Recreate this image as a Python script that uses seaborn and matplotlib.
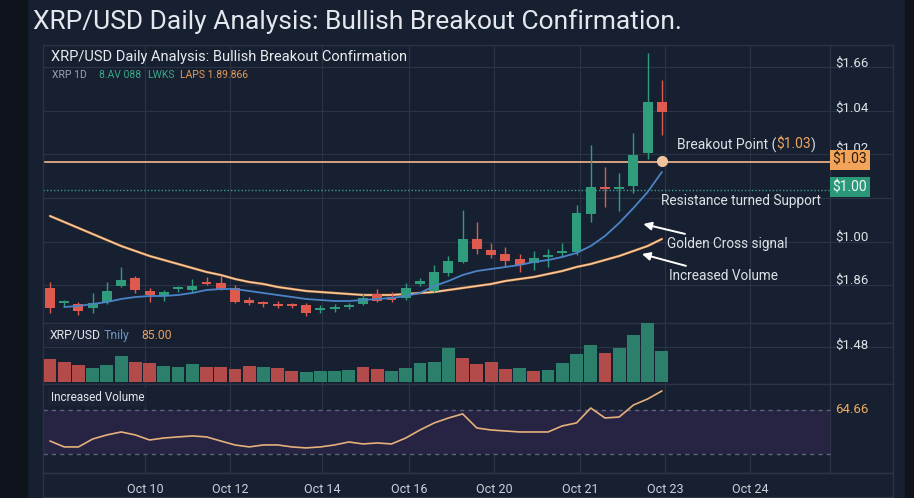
import numpy as np
import pandas as pd
import matplotlib
matplotlib.use("Agg")
import matplotlib.pyplot as plt
import seaborn as sns
from matplotlib.patches import Rectangle

# Candles (one per day)
opens = [0.904, 0.889, 0.888, 0.884, 0.890, 0.906, 0.914, 0.901, 0.896, 0.903,
         0.902, 0.910, 0.909, 0.904, 0.892, 0.890, 0.888, 0.887, 0.887, 0.882,
         0.883, 0.885, 0.888, 0.898, 0.895, 0.894, 0.908, 0.901, 0.919, 0.930,
         0.953, 0.942, 0.938, 0.933, 0.929, 0.935, 0.939, 0.940, 0.978, 1.005,
         1.003, 1.006, 1.039, 1.090]
closes = [0.884, 0.890, 0.881, 0.889, 0.901, 0.912, 0.902, 0.897, 0.900, 0.904,
          0.906, 0.908, 0.903, 0.890, 0.889, 0.888, 0.886, 0.886, 0.879, 0.884,
          0.884, 0.886, 0.894, 0.891, 0.892, 0.904, 0.911, 0.920, 0.931, 0.953,
          0.943, 0.937, 0.931, 0.927, 0.934, 0.937, 0.940, 0.979, 1.005, 1.003,
          1.005, 1.037, 1.090, 1.080]
highs = [0.910, 0.892, 0.890, 0.899, 0.910, 0.925, 0.916, 0.904, 0.902, 0.906,
         0.913, 0.915, 0.916, 0.907, 0.895, 0.891, 0.891, 0.889, 0.889, 0.887,
         0.888, 0.889, 0.899, 0.903, 0.900, 0.909, 0.914, 0.927, 0.936, 0.982,
         0.970, 0.949, 0.945, 0.938, 0.941, 0.943, 0.949, 0.987, 1.047, 1.025,
         1.019, 1.059, 1.139, 1.112]
lows = [0.879, 0.885, 0.877, 0.879, 0.888, 0.905, 0.899, 0.890, 0.891, 0.900,
        0.900, 0.907, 0.902, 0.889, 0.887, 0.885, 0.884, 0.884, 0.876, 0.879,
        0.880, 0.883, 0.887, 0.890, 0.890, 0.892, 0.906, 0.900, 0.916, 0.929,
        0.938, 0.934, 0.925, 0.920, 0.922, 0.925, 0.935, 0.937, 0.970, 0.985,
        0.981, 0.999, 1.033, 1.057]

# moving averages (fast one starts on day 1)
ma_fast = [0.885, 0.886, 0.888, 0.890, 0.893, 0.895, 0.896, 0.896, 0.897, 0.899,
           0.902, 0.903, 0.903, 0.901, 0.899, 0.897, 0.895, 0.893, 0.892, 0.891,
           0.891, 0.892, 0.893, 0.894, 0.896, 0.899, 0.906, 0.911, 0.917, 0.921,
           0.923, 0.925, 0.927, 0.930, 0.932, 0.935, 0.939, 0.946, 0.956, 0.969,
           0.984, 1.000, 1.020]
ma_slow = [0.976, 0.970, 0.964, 0.958, 0.952, 0.946, 0.941, 0.936, 0.932, 0.928,
           0.924, 0.920, 0.917, 0.913, 0.910, 0.908, 0.905, 0.903, 0.901, 0.900,
           0.899, 0.898, 0.897, 0.897, 0.897, 0.898, 0.899, 0.900, 0.902, 0.904,
           0.906, 0.908, 0.911, 0.913, 0.915, 0.918, 0.921, 0.925, 0.928, 0.932,
           0.936, 0.941, 0.946, 0.953]

volume = [23, 20, 17, 14, 17, 26, 20, 19, 16, 15, 18, 15, 15, 13, 16, 15, 14, 11,
          10, 11, 11, 12, 15, 13, 11, 14, 19, 20, 34, 24, 18, 20, 13, 14, 11, 12,
          19, 28, 37, 29, 34, 47, 59, 31]
vol_dir = ["dn", "dn", "dn", "up", "up", "up", "dn", "dn", "up", "up", "up", "dn",
           "dn", "dn", "dn", "up", "dn", "dn", "up", "up", "up", "up", "dn", "dn",
           "up", "up", "up", "up", "up", "dn", "dn", "dn", "dn", "up", "dn", "up",
           "up", "up", "up", "dn", "up", "up", "up", "up"]

rsi = [41.8, 36.4, 36.4, 43.6, 47.3, 50.0, 47.3, 42.7, 44.5, 45.5, 46.4, 45.5,
       41.8, 38.2, 36.4, 38.2, 38.2, 36.4, 35.5, 36.4, 38.2, 40.9, 39.1, 40.0,
       39.1, 44.5, 51.8, 58.2, 62.7, 66.4, 53.6, 51.8, 50.9, 50.0, 50.0, 50.0,
       55.5, 58.2, 71.8, 62.7, 63.6, 74.5, 80.0, 87.3]

date_labels = ["Oct 10", "Oct 12", "Oct 14", "Oct 16", "Oct 20", "Oct 21", "Oct 23", "Oct 24"]
date_pos = [6.68, 12.65, 19.11, 25.23, 31.2, 37.25, 43.22, 49.19]
price_labels = ["$1.66", "$1.04", "$1.02", "$1.00", "$1.86"]
price_label_pos = [1.129, 1.084, 1.044, 0.955, 0.912]
price_grid = [1.125, 1.081, 1.038, 0.994, 0.950, 0.907]
resistance = 1.03
support = 1.002

df = pd.DataFrame({"day": np.arange(len(opens)), "open": opens, "close": closes,
                   "high": highs, "low": lows, "ma_slow": ma_slow, "rsi": rsi,
                   "volume": volume, "dir": vol_dir})

BG = "#172030"
GRID = "#2a3444"
GREEN = "#2f9c7c"
RED = "#de5a4e"
TXT = "#dde2e8"

sns.set_theme(style="dark", rc={"axes.facecolor": BG, "figure.facecolor": BG,
                                "patch.edgecolor": "none"})
plt.rcParams["font.family"] = ["Roboto", "DejaVu Sans"]

fig = plt.figure(figsize=(9.14, 4.98), dpi=100)

def fx(px):
    return px / 914

def fy(py):
    return 1 - py / 498

# darker frame strips
fig.patches.append(Rectangle((0, 0), fx(27), 1, transform=fig.transFigure, color="#0f141c", zorder=0))
fig.patches.append(Rectangle((fx(905), 0), 1, 1, transform=fig.transFigure, color="#0f141c", zorder=0))

left, right = fx(43), fx(893)
ax_p = fig.add_axes([left, fy(323), right - left, fy(45) - fy(323)])
ax_v = fig.add_axes([left, fy(384), right - left, fy(323) - fy(384)])
ax_r = fig.add_axes([left, fy(473), right - left, fy(384) - fy(473)])
fig.patches.append(Rectangle((left, fy(497)), right - left, fy(473) - fy(497), transform=fig.transFigure,
                             fill=False, edgecolor=GRID, lw=1, zorder=1))

x_min, x_max, x_div = -0.49, 59.24, 54.81

for ax in (ax_p, ax_v, ax_r):
    ax.set_facecolor(BG)
    ax.set_xlim(x_min, x_max)
    for s in ax.spines.values():
        s.set_color(GRID)
        s.set_linewidth(1)
    for xp in date_pos:
        ax.axvline(xp, color=GRID, lw=0.8, zorder=0)
    ax.axvline(x_div, color=GRID, lw=1, zorder=0)
    ax.set_xticks([])
    ax.set_yticks([])

# ---- price panel
ax_p.set_ylim(0.869, 1.147)
for yp in price_grid:
    ax_p.axhline(yp, color=GRID, lw=0.8, zorder=0)

up = df["close"] >= df["open"]
cols = np.where(up, GREEN, RED)
ax_p.vlines(df["day"], df["low"], df["high"], colors=cols, lw=1.0, zorder=3)
body_low = np.minimum(df["open"], df["close"])
body_h = np.maximum(np.abs(df["close"] - df["open"]), 0.0018)
ax_p.bar(df["day"], body_h, bottom=body_low, width=0.7, color=cols, edgecolor="none", linewidth=0, zorder=4)

sns.lineplot(x=df["day"], y=df["ma_slow"], ax=ax_p, color="#e8995a", lw=1.7, zorder=2)
sns.lineplot(x=df["day"], y=df["ma_slow"], ax=ax_p, color="#f8dcb8", lw=0.6, zorder=2)
sns.lineplot(x=df["day"][1:], y=ma_fast, ax=ax_p, color="#4a84c6", lw=1.3, zorder=5)

ax_p.hlines(resistance, x_min, x_div, color="#e3ad86", lw=1.3, zorder=2)
ax_p.hlines(support, x_min, x_div, color="#3a9e8c", lw=1, linestyles=(0, (1, 1.5)), zorder=2)
ax_p.plot([df["day"].iloc[-1]], [resistance + 0.001], "o", color="#efc49c", ms=7, zorder=6)
ax_p.set_xlim(x_min, x_max)
ax_p.set_xlabel("")
ax_p.set_ylabel("")

for lab, yp in zip(price_labels, price_label_pos):
    ax_p.text(55.2, yp, lab, color=TXT, fontsize=9.5, va="center", ha="left", zorder=3)
ax_p.text(55.0, 1.032, "$1.03", color="#2b1a08", fontsize=10, va="center", ha="left", zorder=8,
          bbox=dict(boxstyle="square,pad=0.2", fc="#f1a45a", ec="none"))
ax_p.text(55.0, 1.005, "$1.00", color="#eef7f2", fontsize=10, va="center", ha="left", zorder=8,
          bbox=dict(boxstyle="square,pad=0.2", fc="#2c987a", ec="none"))

t = ax_p.text(44.06, 1.047, "Breakout Point (", color=TXT, fontsize=10, va="center", ha="left")
t = ax_p.annotate("$1.03", xy=(1, 0.5), xycoords=t, va="center", ha="left", color="#f0a45c", fontsize=10)
ax_p.annotate(")", xy=(1, 0.5), xycoords=t, va="center", ha="left", color=TXT, fontsize=10)
ax_p.text(42.94, 0.991, "Resistance turned Support", color=TXT, fontsize=9.8, va="center", ha="left")
ax_p.annotate("Golden Cross signal", xy=(41.7, 0.968), xytext=(43.36, 0.948), color=TXT, fontsize=9.8,
              va="center", ha="left",
              arrowprops=dict(arrowstyle="-|>", color="white", lw=1.4, mutation_scale=12, shrinkA=1, shrinkB=0))
ax_p.annotate("Increased Volume", xy=(41.6, 0.938), xytext=(43.5, 0.916), color=TXT, fontsize=9.8,
              va="center", ha="left",
              arrowprops=dict(arrowstyle="-|>", color="white", lw=1.4, mutation_scale=12, shrinkA=1, shrinkB=0))

# ---- volume panel
sns.barplot(data=df, x="day", y="volume", hue="dir", palette={"up": "#2c7f6b", "dn": "#b34b4b"},
            native_scale=True, dodge=False, width=0.9, errorbar=None, saturation=1, legend=False,
            linewidth=0, edgecolor="none", ax=ax_v, zorder=3)
ax_v.set_xlim(x_min, x_max)
ax_v.set_ylim(-2, 59)
ax_v.axhline(35, color=GRID, lw=0.8, zorder=0)
ax_v.set_xticks([])
ax_v.set_yticks([])
ax_v.set_xlabel("")
ax_v.set_ylabel("")
ax_v.text(55.2, 37, "$1.48", color=TXT, fontsize=9.5, va="center", ha="left")

# ---- RSI panel
ax_r.set_ylim(12.7, 93.6)
ax_r.fill_between([x_min, x_div], 30, 70, color="#262442", zorder=1, lw=0)
ax_r.hlines([30, 70], x_min, x_div, color="#60647a", lw=1, linestyles=(0, (3, 3)), zorder=2)
sns.lineplot(data=df, x="day", y="rsi", ax=ax_r, color="#e6b07c", lw=1.2, zorder=4)
ax_r.set_xlim(x_min, x_max)
ax_r.set_xlabel("")
ax_r.set_ylabel("")
ax_r.set_yticks([])
ax_r.set_xticks(date_pos, date_labels)
ax_r.tick_params(axis="x", length=0, pad=7, labelsize=9, labelcolor="#ccd2da")
ax_r.text(55.2, 70, "64.66", color="#f0a864", fontsize=9.5, va="center", ha="left")

# ---- titles and header texts
fig.text(fx(33), fy(22), "XRP/USD Daily Analysis: Bullish Breakout Confirmation.", color="#e4e8ee",
         fontsize=19, va="center", ha="left")
fig.text(fx(51), fy(57), "XRP/USD Daily Analysis: Bullish Breakout Confirmation", color="#e8ebf0",
         fontsize=10.5, va="center", ha="left")
fig.text(fx(52), fy(75), "XRP 1D", color="#9aa6b2", fontsize=7.5, va="center")
fig.text(fx(99), fy(75), "8.AV 088", color="#3aa88a", fontsize=7.5, va="center")
fig.text(fx(147), fy(75), "LWKS", color="#3aa88a", fontsize=7.5, va="center")
fig.text(fx(180), fy(75), "LAPS 1.89.866", color="#e89a5a", fontsize=7.5, va="center")

lbl_box = dict(boxstyle="square,pad=0.25", fc="#1b2334", ec="none")
fig.text(fx(50), fy(335), "XRP/USD", color="#e4e8ee", fontsize=8.8, va="center", bbox=lbl_box)
fig.text(fx(104), fy(335), "Tnily", color="#6f93c4", fontsize=8.8, va="center")
fig.text(fx(141), fy(335), "85.00", color="#e8a060", fontsize=8.8, va="center")
fig.text(fx(51), fy(397), "Increased Volume", color="#e4e8ee", fontsize=8.5, va="center", bbox=lbl_box)

fig.savefig("out.png", dpi=100, facecolor=BG)
